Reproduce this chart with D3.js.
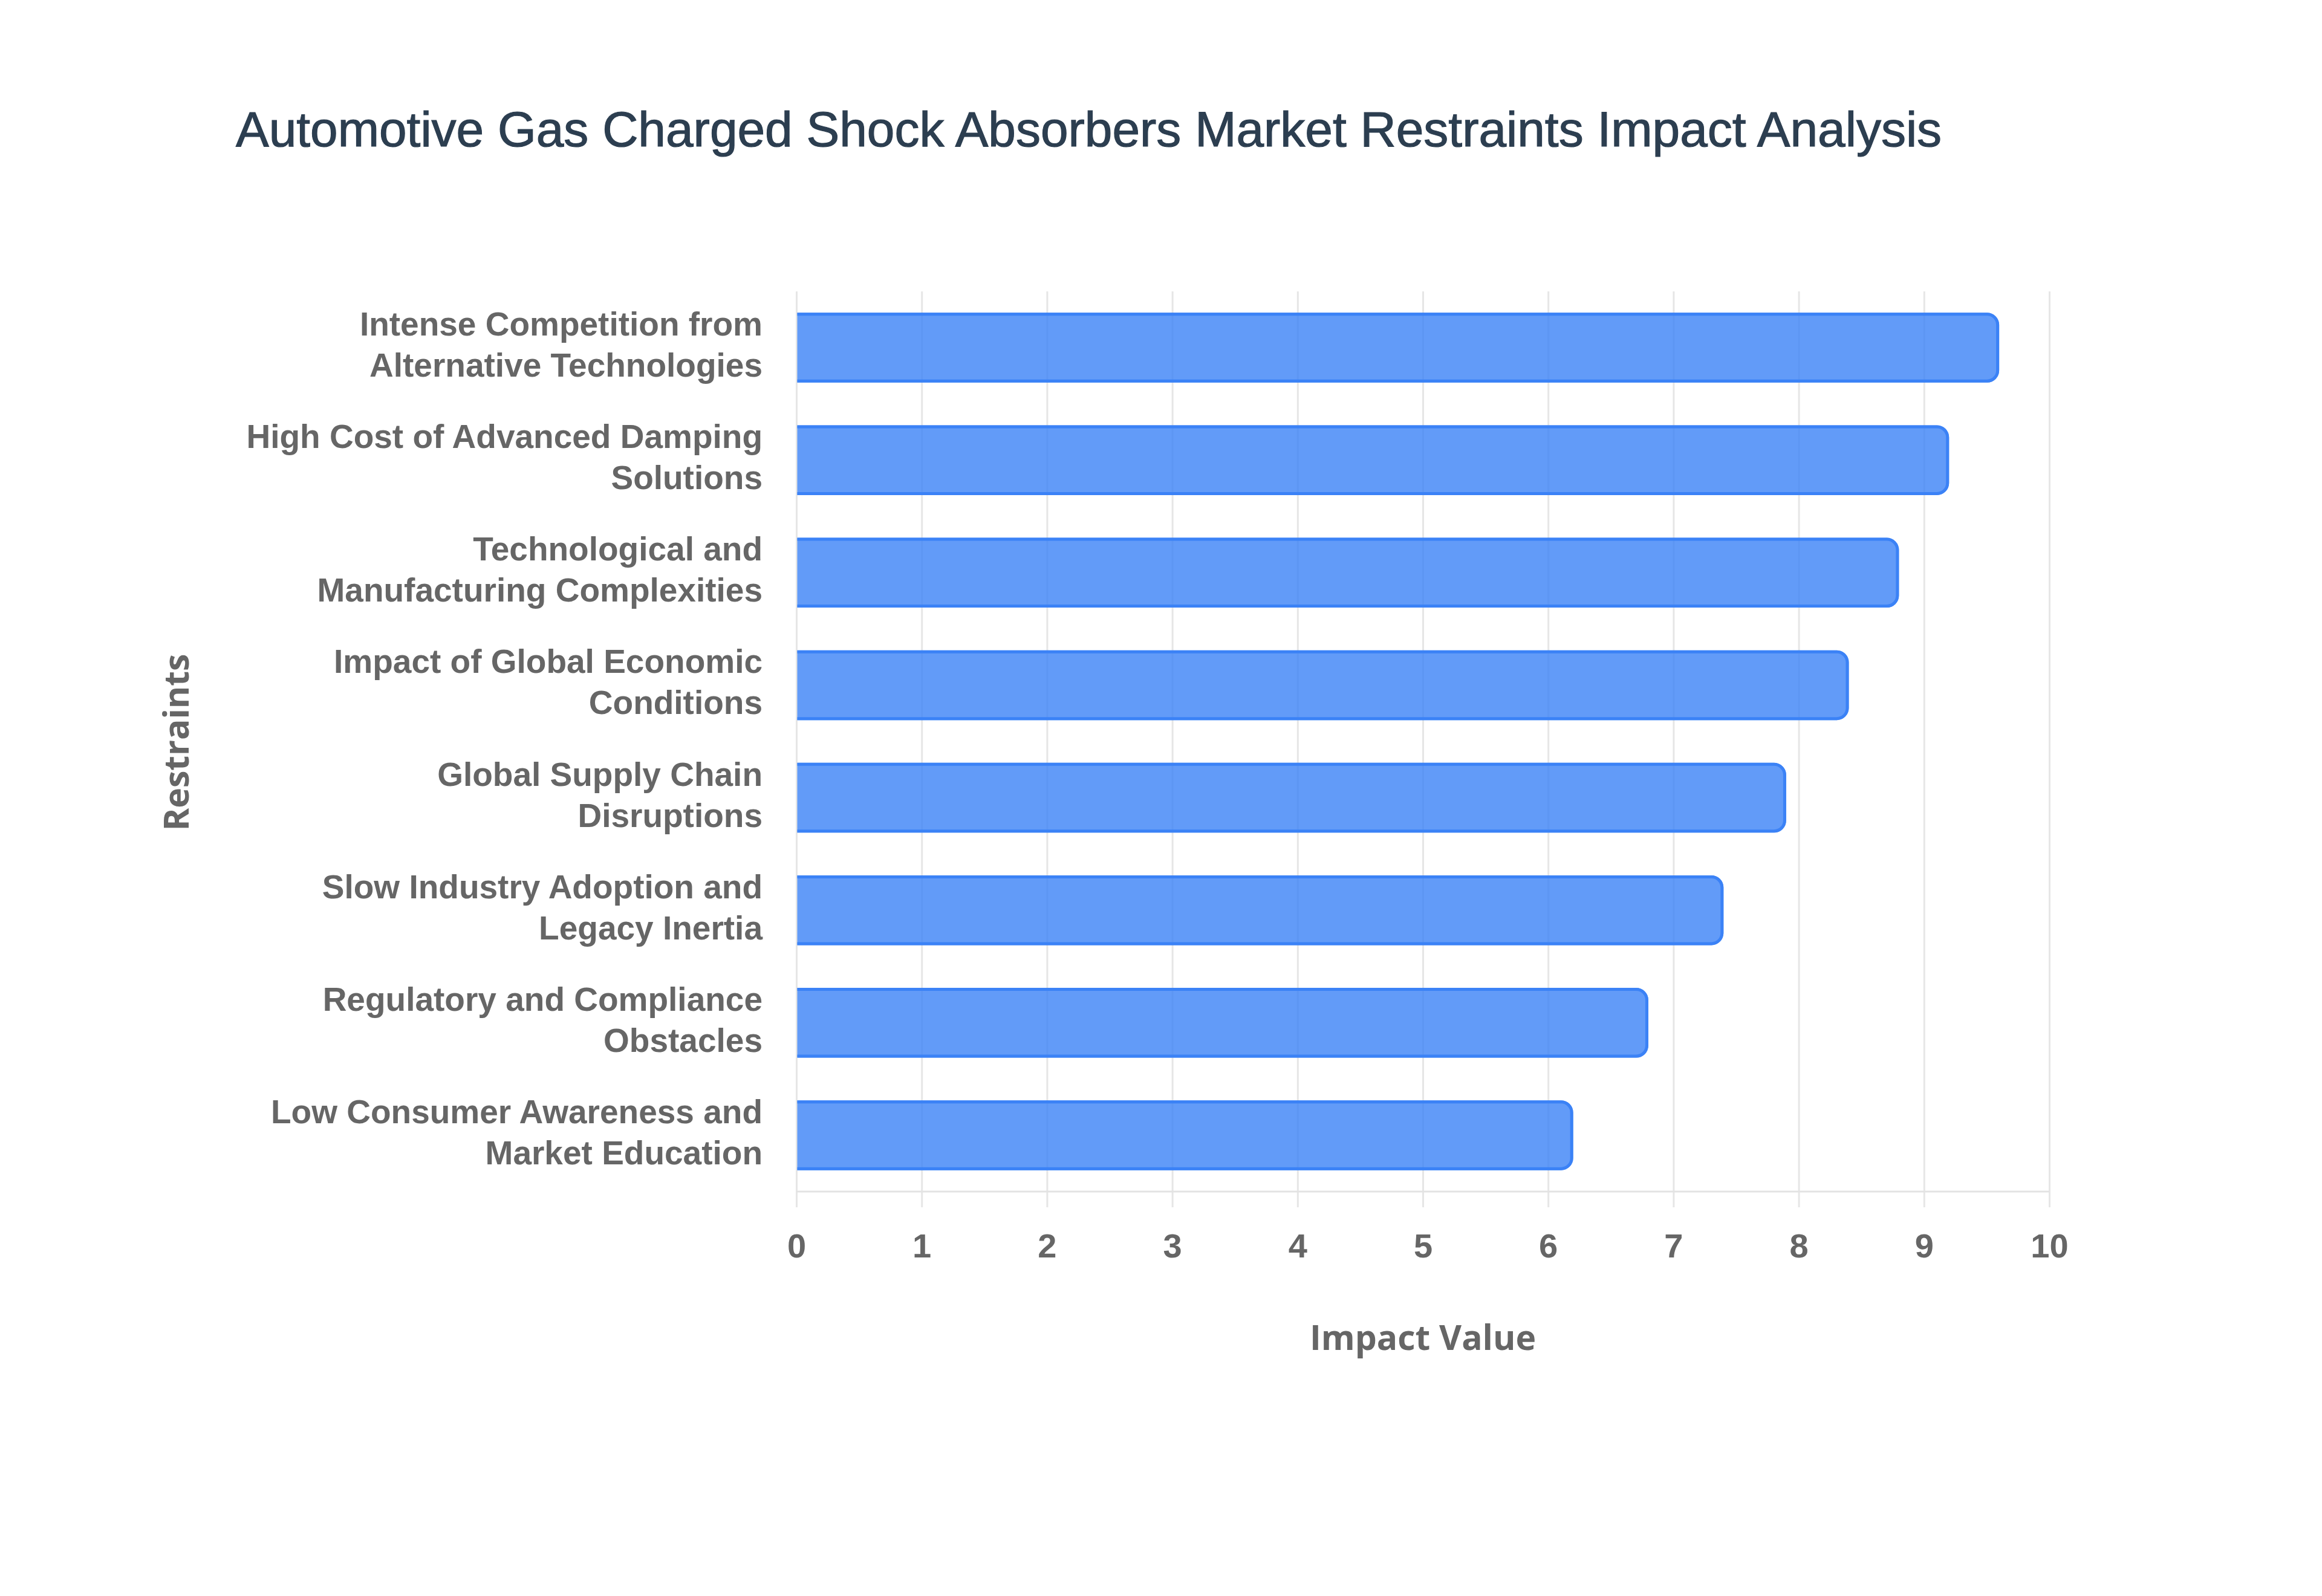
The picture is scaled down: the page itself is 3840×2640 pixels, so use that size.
<!DOCTYPE html>
<html>
<head>
<meta charset="utf-8">
<script src="https://cdn.jsdelivr.net/npm/d3@7"></script>
<style>
  body { margin: 0; background: #fff; }
  .tick-label { font-family: "Liberation Sans", Arial, sans-serif; font-weight: bold; fill: #666; }
  .axis-title { font-family: "Open Sans", sans-serif; font-weight: 700; fill: #666; }
</style>
</head>
<body>
<div id="container"></div>
<script>
    // restraint names, already broken into lines like the original chart
    const categories = [
      ['Intense Competition from', 'Alternative Technologies'],
      ['High Cost of Advanced Damping', 'Solutions'],
      ['Technological and', 'Manufacturing Complexities'],
      ['Impact of Global Economic', 'Conditions'],
      ['Global Supply Chain', 'Disruptions'],
      ['Slow Industry Adoption and', 'Legacy Inertia'],
      ['Regulatory and Compliance', 'Obstacles'],
      ['Low Consumer Awareness and', 'Market Education']
    ];
    const impactValues = [9.6, 9.2, 8.8, 8.4, 7.9, 7.4, 6.8, 6.2];
    const xTicks = [0, 1, 2, 3, 4, 5, 6, 7, 8, 9, 10];

    const W = 3840;
    const H = 2640;
    const plot = { left: 1317, right: 3389, top: 482, bottom: 1971 };
    const tickLen = 26;

    const sample = categories.map((c, i) => ({ key: c.join(' '), lines: c, value: impactValues[i] }));

    const svg = d3.select('#container').append('svg')
      .attr('width', W)
      .attr('height', H)
      .style('background', '#fff');

    const xScale = d3.scaleLinear()
      .domain([0, 10])
      .range([plot.left, plot.right]);

    const yScale = d3.scaleBand()
      .domain(sample.map((s) => s.key))
      .range([plot.top, plot.bottom])
      .paddingInner(0.38)
      .paddingOuter(0.19);

    // vertical grid lines + tick marks + labels
    const xAxis = svg.append('g')
      .attr('transform', `translate(0,${plot.bottom + tickLen})`)
      .call(d3.axisBottom(xScale)
        .tickValues(xTicks)
        .tickFormat(d3.format('d'))
        .tickSize(-(plot.bottom + tickLen - plot.top))
        .tickPadding(43));
    xAxis.select('.domain').remove();
    xAxis.selectAll('.tick line')
      .attr('stroke', '#e6e6e6')
      .attr('stroke-width', 3);
    xAxis.selectAll('.tick text')
      .attr('class', 'tick-label')
      .attr('font-size', 56)
      .attr('fill', '#666');

    // bottom border of the plot
    svg.append('line')
      .attr('x1', plot.left)
      .attr('x2', plot.right)
      .attr('y1', plot.bottom)
      .attr('y2', plot.bottom)
      .attr('stroke', '#e3e3e3')
      .attr('stroke-width', 3);

    // bars, rounded at the value end, border skipped at the base
    const radius = 20;
    const bw = 5;

    function barFill(x0, x1, y0, y1) {
      const r = Math.min(radius, (y1 - y0) / 2, x1 - x0);
      return `M${x0},${y0}H${x1 - r}A${r},${r} 0 0 1 ${x1},${y0 + r}V${y1 - r}A${r},${r} 0 0 1 ${x1 - r},${y1}H${x0}Z`;
    }

    function barBorder(x0, x1, y0, y1) {
      const h = bw / 2;
      const t = y0 + h, b = y1 - h, R = x1 - h;
      const r = Math.max(Math.min(radius, (y1 - y0) / 2, x1 - x0) - h, 0);
      return `M${x0},${t}H${R - r}A${r},${r} 0 0 1 ${R},${t + r}V${b - r}A${r},${r} 0 0 1 ${R - r},${b}H${x0}`;
    }

    const barGroups = svg.selectAll('.bar')
      .data(sample)
      .enter()
      .append('g')
      .attr('class', 'bar');

    barGroups.append('path')
      .attr('d', (d) => barFill(xScale(0) + 1.5, xScale(d.value), yScale(d.key), yScale(d.key) + yScale.bandwidth()))
      .attr('fill', 'rgba(59,130,246,0.8)');

    barGroups.append('path')
      .attr('d', (d) => barBorder(xScale(0) + 1.5, xScale(d.value), yScale(d.key), yScale(d.key) + yScale.bandwidth()))
      .attr('fill', 'none')
      .attr('stroke', '#3b82f6')
      .attr('stroke-width', bw);

    // category labels (two lines each)
    const yAxis = svg.append('g')
      .attr('transform', `translate(${plot.left},0)`)
      .call(d3.axisLeft(yScale).tickSize(0).tickPadding(56));
    yAxis.select('.domain').remove();
    yAxis.selectAll('.tick text').each(function (key) {
      const item = sample.find((s) => s.key === key);
      const t = d3.select(this)
        .text(null)
        .attr('class', 'tick-label')
        .attr('font-size', 55)
        .attr('fill', '#666')
        .attr('dy', null)
        .attr('text-anchor', 'end');
      item.lines.forEach((line, i) => {
        t.append('tspan')
          .attr('x', -56)
          .attr('y', -20 + i * 68)
          .text(line);
      });
    });

    // titles
    svg.append('text')
      .attr('x', 390)
      .attr('y', 242)
      .attr('font-family', '"Liberation Sans", Arial, sans-serif')
      .attr('font-size', 82)
      .attr('fill', '#2c3e50')
      .attr('stroke', '#2c3e50')
      .attr('stroke-width', 1.2)
      .text('Automotive Gas Charged Shock Absorbers Market Restraints Impact Analysis');

    svg.append('text')
      .attr('class', 'axis-title')
      .attr('x', (plot.left + plot.right) / 2)
      .attr('y', 2233)
      .attr('text-anchor', 'middle')
      .attr('font-size', 57)
      .text('Impact Value');

    svg.append('text')
      .attr('class', 'axis-title')
      .attr('transform', 'translate(312,1228) rotate(-90)')
      .attr('text-anchor', 'middle')
      .attr('font-size', 57)
      .text('Restraints');
</script>
</body>
</html>
